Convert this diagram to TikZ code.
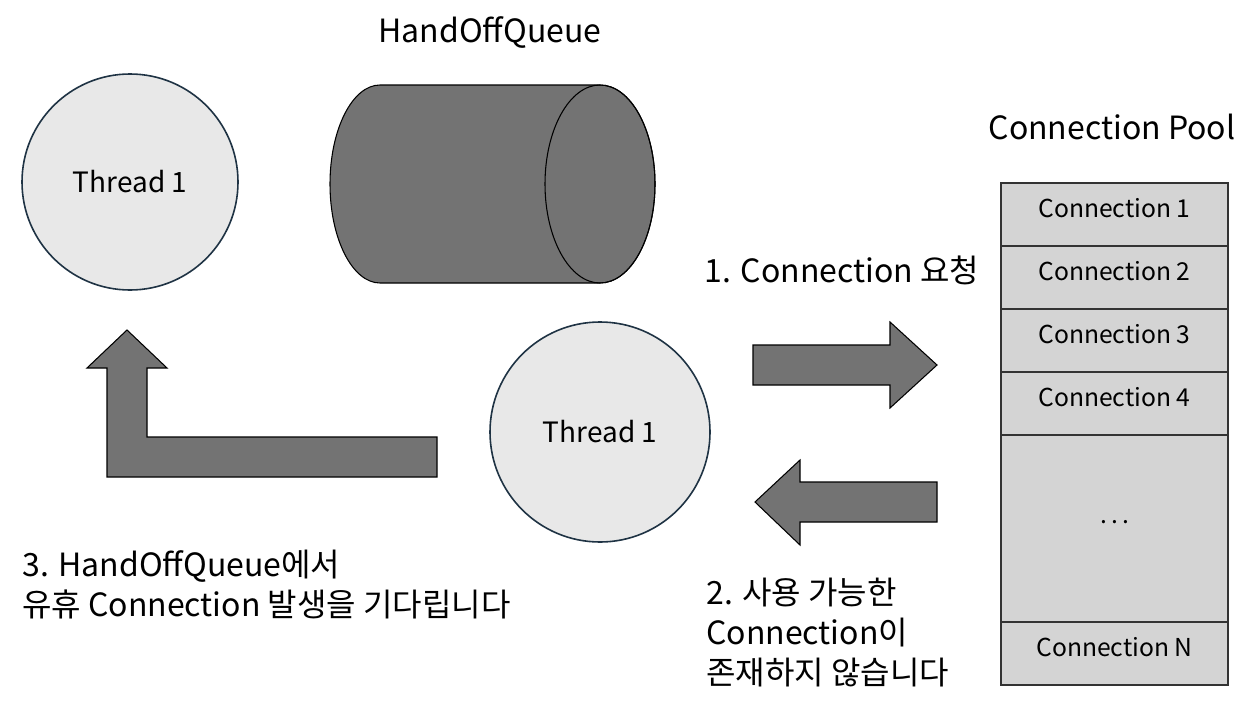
\documentclass[tikz,border=0pt]{standalone}
\usepackage{fontspec}
\setmainfont{Noto Sans CJK KR}
\definecolor{navy}{HTML}{1F3344}
\begin{document}
\begin{tikzpicture}[x=0.75pt,y=-0.75pt,
  thread/.style={circle,draw=navy,line width=1.2pt,fill=gray!18,minimum size=216*0.75pt,font=\fontsize{21}{24}\selectfont},
  big/.style={font=\fontsize{24}{28}\selectfont,inner sep=0pt},
  big2/.style={font=\fontsize{24}{30}\selectfont,inner sep=0pt,align=left},
  arr/.style={draw=black,line width=0.8pt,fill=black!55},
  cell/.style={draw=black!80,line width=0.8pt,fill=black!17}]
\useasboundingbox (0,0) rectangle (1260,728);
\node[thread] (t1) at (130,182) {Thread 1};
\node[thread,minimum size=220*0.75pt] (t2) at (600,432) {Thread 1};
% cylinder
\draw[arr] (380,85) -- (600,85) arc[start angle=-90,end angle=90,x radius=55,y radius=99] -- (380,283) arc[start angle=90,end angle=270,x radius=50,y radius=99] -- cycle;
\draw[black,line width=0.8pt] (600,184) ellipse[x radius=55,y radius=99];
\node[big] (hq) at (490,32) {HandOffQueue};
\node[big] (cp) at (1112,127) {Connection Pool};
% pool
\foreach \a/\b/\t [count=\i] in {183/246/{Connection 1},246/309/{Connection 2},309/372/{Connection 3},372/435/{Connection 4},435/622/{.\,.\,.},622/685/{Connection N}}{
  \draw[cell] (1001,\a) rectangle (1228,\b);
  \node[font=\fontsize{18.5}{22}\selectfont] (c\i) at (1114.5,{(\a+\b)/2-6}) {\t};
}
% arrows
\draw[arr] (753,345) -- (890,345) -- (890,322) -- (937,365) -- (890,408) -- (890,385) -- (753,385) -- cycle;
\draw[arr] (937,482) -- (800,482) -- (800,460) -- (755,502) -- (800,545) -- (800,522) -- (937,522) -- cycle;
\draw[arr] (437,437) -- (147,437) -- (147,368) -- (167,368) -- (127,330) -- (87,368) -- (107,368) -- (107,477) -- (437,477) -- cycle;
\node[big] (l1) at (842,270) {1. Connection 요청};
\node[big2,anchor=north west] (l2) at (706,578) {2. 사용 가능한\\Connection이\\존재하지 않습니다};
\node[big2,anchor=north west] (l3) at (22,550) {3. HandOffQueue에서\\유휴 Connection 발생을 기다립니다};
\end{tikzpicture}
\end{document}
